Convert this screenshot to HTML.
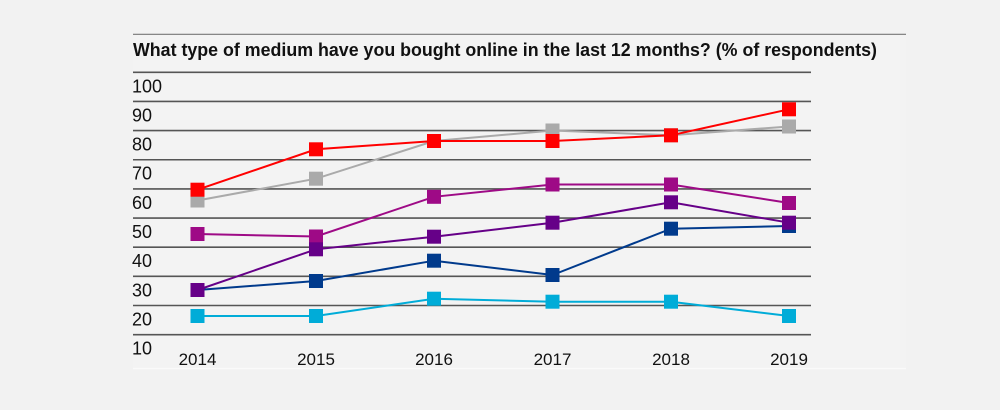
<!DOCTYPE html>
<html>
<head>
<meta charset="utf-8">
<style>
  html, body { margin:0; padding:0; background:#f2f2f2; }
  body { width:1000px; height:410px; overflow:hidden; }
  svg { display:block; }
  text { font-family: "Liberation Sans", Arial, sans-serif; fill:#111; }
</style>
</head>
<body>
<svg width="1000" height="410" viewBox="0 0 1000 410" xmlns="http://www.w3.org/2000/svg">
  <rect x="0" y="0" width="1000" height="410" fill="#f2f2f2"/>
  <rect x="133" y="35" width="773" height="333" fill="#f3f3f3"/>
  <line x1="133" y1="368.5" x2="906" y2="368.5" stroke="#fafafa" stroke-width="1.5"/>

  <!-- top rule -->
  <line x1="133" y1="34.3" x2="906" y2="34.3" stroke="#777" stroke-width="1.2"/>

  <!-- title -->
  <text x="133" y="56" font-size="18" font-weight="bold" textLength="744" lengthAdjust="spacingAndGlyphs">What type of medium have you bought online in the last 12 months? (% of respondents)</text>

  <!-- gridlines -->
  <g stroke="#555" stroke-width="1.6">
    <line x1="133" y1="72.3" x2="811" y2="72.3"/>
    <line x1="133" y1="101.45" x2="811" y2="101.45"/>
    <line x1="133" y1="130.6" x2="811" y2="130.6"/>
    <line x1="133" y1="159.75" x2="811" y2="159.75"/>
    <line x1="133" y1="188.9" x2="811" y2="188.9"/>
    <line x1="133" y1="218.05" x2="811" y2="218.05"/>
    <line x1="133" y1="247.2" x2="811" y2="247.2"/>
    <line x1="133" y1="276.35" x2="811" y2="276.35"/>
    <line x1="133" y1="305.5" x2="811" y2="305.5"/>
    <line x1="133" y1="334.65" x2="811" y2="334.65"/>
  </g>

  <!-- y labels -->
  <g font-size="18">
    <text x="132" y="92.3">100</text>
    <text x="132" y="121.5">90</text>
    <text x="132" y="150.6">80</text>
    <text x="132" y="179.7">70</text>
    <text x="132" y="208.9">60</text>
    <text x="132" y="238">50</text>
    <text x="132" y="267.2">40</text>
    <text x="132" y="296.3">30</text>
    <text x="132" y="325.5">20</text>
    <text x="132" y="354.3">10</text>
  </g>

  <!-- x labels -->
  <g font-size="17" text-anchor="middle">
    <text x="197.5" y="365">2014</text>
    <text x="316" y="365">2015</text>
    <text x="434" y="365">2016</text>
    <text x="552.5" y="365">2017</text>
    <text x="671" y="365">2018</text>
    <text x="789" y="365">2019</text>
  </g>

  <!-- series: cyan -->
  <g>
    <polyline fill="none" stroke="#00acd8" stroke-width="2" points="197.5,316 316,316 434,298.7 552.5,301.7 671,301.7 789,316"/>
    <g fill="#00acd8">
      <rect x="190.5" y="309" width="14" height="14"/>
      <rect x="309" y="309" width="14" height="14"/>
      <rect x="427" y="291.7" width="14" height="14"/>
      <rect x="545.5" y="294.7" width="14" height="14"/>
      <rect x="664" y="294.7" width="14" height="14"/>
      <rect x="782" y="309" width="14" height="14"/>
    </g>
  </g>

  <!-- navy -->
  <g>
    <polyline fill="none" stroke="#003a8c" stroke-width="2" points="197.5,290 316,281 434,260.7 552.5,275 671,228.7 789,226"/>
    <g fill="#003a8c">
      <rect x="190.5" y="283" width="14" height="14"/>
      <rect x="309" y="274" width="14" height="14"/>
      <rect x="427" y="253.7" width="14" height="14"/>
      <rect x="545.5" y="268" width="14" height="14"/>
      <rect x="664" y="221.7" width="14" height="14"/>
      <rect x="782" y="219" width="14" height="14"/>
    </g>
  </g>

  <!-- gray -->
  <g>
    <polyline fill="none" stroke="#aaaaaa" stroke-width="2" points="197.5,200.5 316,178.7 434,141 552.5,130.5 671,135.3 789,126.5"/>
    <g fill="#aaaaaa">
      <rect x="190.5" y="193.5" width="14" height="14"/>
      <rect x="309" y="171.7" width="14" height="14"/>
      <rect x="427" y="134" width="14" height="14"/>
      <rect x="545.5" y="123.5" width="14" height="14"/>
      <rect x="664" y="128.3" width="14" height="14"/>
      <rect x="782" y="119.5" width="14" height="14"/>
    </g>
  </g>

  <!-- magenta -->
  <g>
    <polyline fill="none" stroke="#9e0a86" stroke-width="2" points="197.5,234 316,236.5 434,196.8 552.5,184.5 671,184.5 789,203"/>
    <g fill="#9e0a86">
      <rect x="190.5" y="227" width="14" height="14"/>
      <rect x="309" y="229.5" width="14" height="14"/>
      <rect x="427" y="189.8" width="14" height="14"/>
      <rect x="545.5" y="177.5" width="14" height="14"/>
      <rect x="664" y="177.5" width="14" height="14"/>
      <rect x="782" y="196" width="14" height="14"/>
    </g>
  </g>

  <!-- purple -->
  <g>
    <polyline fill="none" stroke="#660088" stroke-width="2" points="197.5,290 316,249.3 434,236.7 552.5,222.7 671,202.3 789,222.7"/>
    <g fill="#660088">
      <rect x="190.5" y="283" width="14" height="14"/>
      <rect x="309" y="242.3" width="14" height="14"/>
      <rect x="427" y="229.7" width="14" height="14"/>
      <rect x="545.5" y="215.7" width="14" height="14"/>
      <rect x="664" y="195.3" width="14" height="14"/>
      <rect x="782" y="215.7" width="14" height="14"/>
    </g>
  </g>

  <!-- red -->
  <g>
    <polyline fill="none" stroke="#ff0000" stroke-width="2" points="197.5,189.7 316,149.3 434,141 552.5,141 671,135.3 789,109.3"/>
    <g fill="#ff0000">
      <rect x="190.5" y="182.7" width="14" height="14"/>
      <rect x="309" y="142.3" width="14" height="14"/>
      <rect x="427" y="134" width="14" height="14"/>
      <rect x="545.5" y="134" width="14" height="14"/>
      <rect x="664" y="128.3" width="14" height="14"/>
      <rect x="782" y="102.3" width="14" height="14"/>
    </g>
  </g>
</svg>
</body>
</html>
